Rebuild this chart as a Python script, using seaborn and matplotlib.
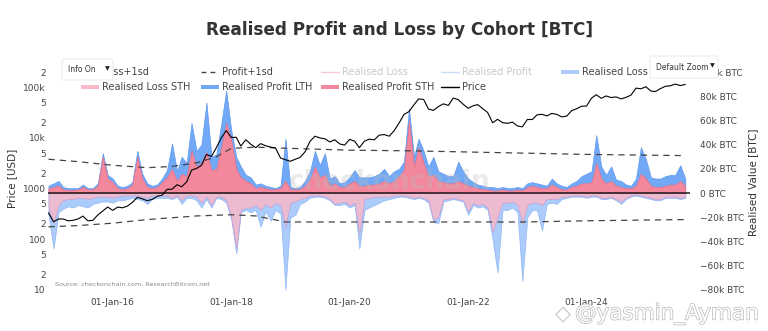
import numpy as np
import pandas as pd
import matplotlib
matplotlib.use("Agg")
import matplotlib.pyplot as plt
import matplotlib.patheffects as pe
from matplotlib.patches import FancyBboxPatch, Rectangle
from matplotlib.lines import Line2D
import seaborn as sns

# ---------------- data (monthly) ----------------
start_month = "2014-12-01"

price_usd = [
    330, 220, 250, 250, 230, 235, 250, 285, 230, 235, 300, 360, 430,          # Dec14-Dec15
    370, 430, 415, 450, 530, 670, 625, 575, 610, 700, 740, 960,               # 2016
    970, 1190, 1080, 1350, 2300, 2500, 2850, 4700, 4300, 6400, 10000, 14000,  # 2017
    10200, 10300, 6900, 9200, 7500, 6400, 7700, 7000, 6600, 6300, 4000, 3700, # 2018
    3450, 3800, 4100, 5300, 8500, 10800, 10000, 9600, 8300, 9200, 7600, 7200, # 2019
    9350, 8600, 6400, 8600, 9450, 9150, 11300, 11650, 10800, 13800, 19700, 29000,  # 2020
    33100, 45200, 58800, 57700, 37300, 35000, 41500, 47100, 43800, 61300, 57000, 46300,  # 2021
    38500, 43200, 45500, 37700, 31800, 19900, 23300, 20000, 19400, 20500, 17200, 16500,  # 2022
    23100, 23100, 28500, 29300, 27200, 30500, 29200, 26000, 27000, 34500, 37700, 42300,  # 2023
    42600, 61200, 71300, 60600, 67500, 62700, 64600, 59000, 63300, 70200, 96400, 93400,  # 2024
    102400, 84300, 82500, 94200, 104600, 107100, 115700, 108200, 114000,                 # 2025
]

# thousand BTC
profit_total_k = [
    6, 8, 10, 5, 4, 4, 4, 7, 4, 4, 8, 33, 15,
    12, 6, 5, 6, 9, 35, 16, 8, 6, 7, 12, 19,
    41, 18, 30, 25, 58, 35, 40, 75, 30, 32, 58, 85,
    52, 30, 22, 15, 13, 7, 8, 6, 5, 4, 6, 45,
    5, 4, 5, 10, 18, 35, 23, 33, 12, 14, 8, 9,
    13, 19, 13, 13, 13, 14, 16, 20, 14, 18, 20, 26,
    70, 30, 45, 35, 22, 30, 18, 16, 14, 14, 26, 18,
    12, 9, 7, 6, 5, 5, 4, 5, 4, 4, 5, 4,
    8, 9, 8, 7, 6, 12, 8, 6, 5, 8, 10, 14,
    16, 18, 48, 22, 15, 22, 11, 10, 7, 6, 12, 38,
    28, 13, 12, 12, 14, 15, 15, 23, 12,
]
profit_sth_k = [
    4, 5, 6, 3, 2.5, 2.5, 3, 5, 3, 3, 6, 30, 12,
    9, 4, 3, 4, 7, 30, 12, 5, 4, 5, 9, 13,
    20, 10, 16, 14, 35, 22, 25, 34, 19, 20, 38, 58,
    44, 20, 13, 10, 8, 4, 5, 4, 3, 3, 4, 10,
    3, 3, 3, 6, 11, 22, 13, 15, 6, 8, 5, 5,
    8, 10, 6, 6, 7, 7, 8, 10, 8, 10, 14, 19,
    60, 22, 38, 25, 14, 15, 10, 9, 8, 8, 10, 8,
    6, 5, 4, 3, 3, 2, 2, 3, 2, 2, 3, 2,
    5, 6, 5, 4, 4, 7, 5, 3, 3, 5, 6, 8,
    8, 9, 25, 12, 8, 10, 6, 5, 4, 4, 6, 16,
    12, 6, 5, 5, 6, 7, 7, 10, 6,
]
loss_total_k = [
    18, 46, 16, 13, 11, 12, 10, 11, 12, 9, 8, 7, 7,
    8, 6, 6, 5, 4, 5, 6, 9, 5, 4, 4, 4,
    5, 3, 9, 4, 4, 6, 12, 5, 12, 4, 5, 8,
    22, 50, 16, 14, 16, 14, 28, 15, 23, 14, 17, 80,
    20, 18, 9, 7, 4, 3, 3, 4, 6, 10, 10, 9,
    12, 10, 46, 14, 12, 10, 8, 6, 5, 4, 3, 3,
    4, 5, 4, 5, 8, 24, 25, 7, 6, 5, 6, 7,
    18, 10, 12, 11, 14, 39, 66, 14, 14, 12, 16, 73,
    20, 14, 14, 31, 9, 8, 9, 5, 4, 3, 3, 3,
    4, 3, 3, 5, 5, 4, 6, 9, 5, 3, 2, 3,
    4, 5, 6, 6, 4, 4, 4, 5, 4,
]
loss_sth_k = [
    12, 25, 10, 6, 5, 5, 4, 4, 5, 4, 3, 3, 3,
    4, 3, 2, 2, 2, 2, 3, 4, 2, 2, 2, 2,
    4, 2, 6, 2, 2, 3, 8, 3, 10, 3, 3, 6,
    20, 46, 14, 12, 12, 10, 14, 9, 12, 8, 10, 28,
    8, 7, 5, 4, 2, 2, 2, 3, 5, 9, 8, 7,
    10, 8, 34, 5, 4, 3, 3, 3, 3, 2, 2, 2,
    3, 4, 3, 4, 6, 22, 20, 5, 5, 4, 5, 6,
    15, 8, 10, 9, 12, 32, 20, 8, 8, 7, 10, 25,
    10, 8, 8, 10, 5, 5, 5, 3, 3, 2, 2, 2,
    3, 2, 2, 4, 4, 3, 5, 7, 4, 2, 1, 2,
    3, 4, 5, 5, 3, 3, 3, 4, 3,
]

profit_sd_dates = ["2014-12-01", "2015-06-01", "2016-01-01", "2016-08-01", "2017-01-01",
                   "2017-06-01", "2017-10-01", "2018-01-01", "2018-06-01", "2019-01-01",
                   "2020-01-01", "2021-01-01", "2022-01-01", "2023-01-01", "2024-01-01",
                   "2025-09-01"]
profit_sd_k = [28, 26, 23, 21, 22, 25, 30, 37, 38, 37, 35.5, 35, 34, 33, 32, 31]

loss_sd_dates = ["2014-12-01", "2015-06-01", "2016-01-01", "2016-08-01", "2017-06-01",
                 "2018-01-01", "2018-06-01", "2018-12-01", "2020-01-01", "2022-01-01",
                 "2023-01-01", "2024-01-01", "2025-09-01"]
loss_sd_k = [-28, -27, -25, -22, -19, -18, -19, -24, -24, -24, -24, -23, -22]

left_tick_vals = [10, 20, 50, 100, 200, 500, 1000, 2000, 5000, 10000, 20000, 50000, 100000, 200000]
left_tick_labels = ["10", "2", "5", "100", "2", "5", "1000", "2", "5", "10k", "2", "5", "100k", "2"]
right_tick_vals = [-80, -60, -40, -20, 0, 20, 40, 60, 80, 100]
right_tick_labels = ["\u221280k BTC", "\u221260k BTC", "\u221240k BTC", "\u221220k BTC", "0 BTC",
                     "20k BTC", "40k BTC", "60k BTC", "80k BTC", "100k BTC"]
x_tick_dates = ["2016-01-01", "2018-01-01", "2020-01-01", "2022-01-01", "2024-01-01"]
x_tick_labels = ["01-Jan-16", "01-Jan-18", "01-Jan-20", "01-Jan-22", "01-Jan-24"]

# ---------------- frames ----------------
dates = pd.date_range(start_month, periods=len(price_usd), freq="MS")
df = pd.DataFrame({
    "date": dates,
    "price": price_usd,
    "profit_total": profit_total_k,
    "profit_sth": profit_sth_k,
    "loss_total": [-v for v in loss_total_k],
    "loss_sth": [-v for v in loss_sth_k],
})
psd = pd.DataFrame({"date": pd.to_datetime(profit_sd_dates), "v": profit_sd_k})
lsd = pd.DataFrame({"date": pd.to_datetime(loss_sd_dates), "v": loss_sd_k})

# ---------------- styling ----------------
sns.set_theme(style="white")
plt.rcParams["font.family"] = ["DejaVu Sans"]

BLUE = "#71a9f7"
PINK = "#f3889d"
LBLUE = "#abcbfa"
LPINK = "#f8b9c8"
TXT = "#444444"

W, H = 768, 331
fig = plt.figure(figsize=(W / 100, H / 100), dpi=100)
fig.patch.set_facecolor("white")

L, R, T, B = 48, 690, 62, 294
ax = fig.add_axes([L / W, 1 - B / H, (R - L) / W, (B - T) / H])
axp = ax.twinx()

# BTC fills (main axis, drawn below the price axis)
ax.fill_between(df["date"], 0, df["profit_total"], color=BLUE, lw=0.5, ec="#5e98ee", zorder=2)
ax.fill_between(df["date"], 0, df["profit_sth"], color=PINK, lw=0.5, ec="#ea7088", zorder=3)
ax.fill_between(df["date"], 0, df["loss_total"], color=LBLUE, lw=0.5, ec="#8fb8f5", zorder=2)
ax.fill_between(df["date"], 0, df["loss_sth"], color=LPINK, alpha=0.85, lw=0.5, ec="#c99ad0", zorder=3)

sns.lineplot(data=psd, x="date", y="v", ax=ax, color="#444444", lw=0.9,
             linestyle=(0, (5, 4)), zorder=4)
sns.lineplot(data=lsd, x="date", y="v", ax=ax, color="#444444", lw=0.9,
             linestyle=(0, (5, 4)), zorder=4)
ax.axhline(0, color="black", lw=1.2, alpha=0.8, zorder=5)

sns.lineplot(data=df, x="date", y="price", ax=axp, color="black", lw=0.8)
axp.set_yscale("log")

# limits
ax.set_xlim(pd.Timestamp("2014-11-28"), pd.Timestamp("2025-09-30"))
ax.set_ylim(-83.7, 108.6)
axp.set_ylim(10 ** 0.915, 10 ** 5.5)

# axes placement of ticks
ax.yaxis.tick_right()
axp.yaxis.tick_left()
ax.set_yticks(right_tick_vals)
ax.set_yticklabels(right_tick_labels)
axp.set_yticks(left_tick_vals)
axp.set_yticklabels(left_tick_labels)
axp.yaxis.set_minor_locator(matplotlib.ticker.NullLocator())
ax.set_xticks(pd.to_datetime(x_tick_dates))
ax.set_xticklabels(x_tick_labels)

for a in (ax, axp):
    a.set_xlabel("")
    a.set_ylabel("")
    a.grid(False)
    for s in a.spines.values():
        s.set_visible(False)
ax.tick_params(axis="y", length=0, pad=7.5, labelsize=6.5, labelcolor=TXT)
ax.tick_params(axis="x", length=0, pad=3, labelsize=6.5, labelcolor=TXT)
axp.tick_params(axis="y", length=0, pad=1.5, labelsize=6.5, labelcolor=TXT)

# ---------------- overlay (titles, legend, buttons, watermarks) ----------------
ov = fig.add_axes([0, 0, 1, 1], zorder=10)
ov.set_xlim(0, W)
ov.set_ylim(H, 0)
ov.axis("off")
ov.patch.set_visible(False)

ov.text(400, 30, "Realised Profit and Loss by Cohort [BTC]", ha="center", va="center",
        fontsize=12.2, fontweight="bold", color="#333333")
ov.text(12, 178, "Price [USD]", rotation=90, ha="center", va="center", fontsize=7.5, color="#333333")
ov.text(753, 182, "Realised Value [BTC]", rotation=90, ha="center", va="center", fontsize=7.5,
        color="#333333")
ov.text(55, 284, "Source: checkonchain.com, ResearchBitcoin.net", ha="left", va="center",
        fontsize=4.6, color="#888888")
ov.text(390, 182, "checkonchain", ha="center", va="center", fontsize=19, color="#bbbbbb",
        alpha=0.3, fontweight="bold")

# legend (two rows, fixed 120 px columns)
col_x = [81, 201, 321, 441, 561]
row_y = [72, 87]
entries = [
    (0, 0, "Loss+1sd", "dash", "#444444", TXT),
    (0, 1, "Profit+1sd", "dash", "#444444", TXT),
    (0, 2, "Realised Loss", "line", "#f7c9d4", "#c8c8c8"),
    (0, 3, "Realised Profit", "line", "#c9dcf9", "#c8c8c8"),
    (0, 4, "Realised Loss", "bar", LBLUE, TXT),
    (1, 0, "Realised Loss STH", "bar", LPINK, TXT),
    (1, 1, "Realised Profit LTH", "bar", BLUE, TXT),
    (1, 2, "Realised Profit STH", "bar", PINK, TXT),
    (1, 3, "Price", "line", "black", TXT),
]
for r, c, lab, kind, col, tcol in entries:
    x0, y0 = col_x[c], row_y[r]
    if kind == "bar":
        ov.add_patch(Rectangle((x0, y0 - 2), 18, 4, color=col, lw=0, zorder=2))
    elif kind == "dash":
        ov.add_line(Line2D([x0, x0 + 18], [y0, y0], color=col, lw=1.0, linestyle=(0, (3.5, 3)),
                           zorder=2))
    else:
        ov.add_line(Line2D([x0, x0 + 18], [y0, y0], color=col, lw=1.0, zorder=2))
    ov.text(x0 + 21, y0, lab, ha="left", va="center", fontsize=7, color=tcol, zorder=3)

# buttons (drawn above the legend)
for (bx, by, bw, bh, lab) in [(62, 59, 51, 21, "Info On"), (650, 56, 68, 22, "Default Zoom")]:
    ov.add_patch(FancyBboxPatch((bx, by), bw, bh, boxstyle="round,pad=0,rounding_size=2",
                                fc="white", ec="#e6e6e6", lw=0.6, zorder=8))
    ov.text(bx + 6, by + bh / 2, lab, ha="left", va="center", fontsize=5.5, color="#333333",
            zorder=9)
    ov.text(bx + bw - 6, by + bh / 2 - 1, "\u25bc", ha="center", va="center", fontsize=4.5,
            color="#222222", zorder=9)

# overlay watermark (bottom right)
ov.text(667, 314, "@yasmin_Ayman", ha="center", va="center", fontsize=15.5, color="white",
        path_effects=[pe.withStroke(linewidth=1.0, foreground="#b8b8b8")], zorder=9)
ov.text(563, 314, "\u25c7", ha="center", va="center", fontsize=15, color="#c4c4c4", zorder=9)

fig.savefig("out.png", dpi=100, facecolor="white")
